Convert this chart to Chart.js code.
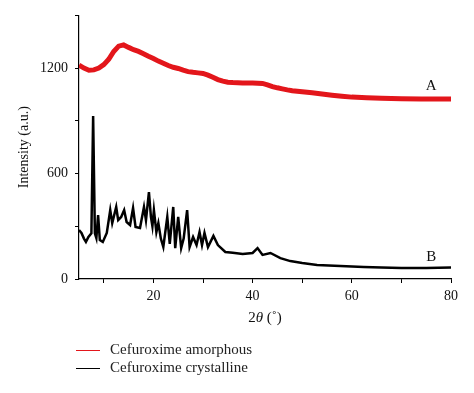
<!DOCTYPE html>
<html>
<head>
<script src="https://cdn.jsdelivr.net/npm/chart.js"></script>
<title>XRD</title>
<style>
  body { margin: 0; background: #fff; }
  #wrap { position: relative; width: 474px; height: 393px; }
  #legend { position: absolute; left: 76px; top: 340px; font: 15px "Liberation Serif", serif; color: #222; }
  #legend div { height: 18px; line-height: 18px; white-space: nowrap; }
  #legend span { display: inline-block; width: 24px; height: 0; border-top: 1.5px solid; vertical-align: middle; margin-right: 10px; }
</style>
</head>
<body>
<div id="wrap">
  <canvas id="xrd" width="474" height="393"></canvas>
  <div id="legend"></div>
</div>
<script>
// 2theta (deg) and intensity
const amorphousX = [5, 6, 7, 8, 9, 10, 11, 12, 13, 14, 15, 16, 17, 18, 19, 20, 21, 22, 23, 24, 25, 26, 27, 28, 29, 30,
  31, 32, 33, 34, 35, 36, 38, 40, 42, 43, 44, 45, 46, 47, 48, 50, 52, 54, 56, 58, 60, 63, 66, 70, 74, 77, 80];
const amorphousY = [1217, 1200, 1188, 1190, 1200, 1220, 1250, 1295, 1325, 1332, 1318, 1305, 1295, 1282, 1268, 1255,
  1240, 1228, 1215, 1205, 1198, 1188, 1180, 1176, 1173, 1170, 1160, 1148, 1135, 1126, 1120, 1118, 1116, 1115, 1113,
  1105, 1095, 1088, 1082, 1076, 1071, 1065, 1060, 1053, 1046, 1040, 1035, 1031, 1028, 1025, 1024, 1024, 1024];

const crystX = [5, 5.5, 6, 6.4, 6.9, 7.5, 7.85, 8.2, 8.5, 8.85, 9.2, 9.8, 10.6, 11.3, 11.7, 12.5, 12.9, 13.5, 14.1,
  14.6, 15.3, 15.9, 16.4, 17.3, 18.1, 18.5, 19.1, 19.5, 19.8, 20.1, 20.6, 21.0, 21.5, 22.0, 22.8, 23.3, 24.0, 24.4,
  25.0, 25.6, 26.1, 26.8, 27.3, 28.0, 28.7, 29.3, 29.8, 30.3, 31.0, 32.1, 33.0, 34.5, 36, 38, 40, 41, 42, 43.6,
  45.6, 47.6, 50, 53, 57.7, 62.4, 66, 70, 75, 80];
const crystY = [279, 262, 230, 211, 239, 260, 927, 260, 233, 364, 222, 211, 262, 392, 318, 410, 335, 353, 392,
  324, 307, 404, 296, 290, 410, 335, 495, 353, 300, 392, 267, 318, 230, 182, 353, 200, 410, 176,
  353, 176, 230, 392, 182, 239, 193, 267, 193, 262, 182, 245, 193, 154, 150, 142, 148, 176, 137, 148,
  119, 102, 91, 80, 74, 68, 65, 63, 63, 66];

const seriesNames = ['Cefuroxime amorphous', 'Cefuroxime crystalline'];
const seriesColors = ['#e3161b', '#000000'];
const curveLabels = ['A', 'B'];
const labelAt = [[76, 1098], [76, 125]];
const xTicks = [10, 20, 30, 40, 50, 60, 70, 80];
const yTicks = [0, 300, 600, 900, 1200, 1500];

const serif = '"Liberation Serif", "Times New Roman", serif';

const extras = {
  id: 'extras',
  afterDraw(chart) {
    const ctx = chart.ctx;
    const xs = chart.scales.x, ys = chart.scales.y;
    ctx.save();
    ctx.fillStyle = '#111';
    ctx.font = '15px ' + serif;
    ctx.textAlign = 'center';
    ctx.textBaseline = 'middle';
    curveLabels.forEach((t, i) => {
      ctx.fillText(t, xs.getPixelForValue(labelAt[i][0]), ys.getPixelForValue(labelAt[i][1]));
    });
    // x axis title with italic theta
    const parts = [['2', '15px '], ['\u03b8', 'italic 15px '], [' (\u02da)', '15px ']];
    let w = 0;
    parts.forEach(p => { ctx.font = p[1] + serif; w += ctx.measureText(p[0]).width; });
    let x = (xs.left + xs.right) / 2 - w / 2;
    ctx.textAlign = 'left';
    parts.forEach(p => {
      ctx.font = p[1] + serif;
      ctx.fillText(p[0], x, 318);
      x += ctx.measureText(p[0]).width;
    });
    ctx.restore();
  }
};

new Chart(document.getElementById('xrd'), {
  type: 'scatter',
  data: {
    datasets: [
      { label: seriesNames[0], data: amorphousX.map((x, i) => ({ x: x, y: amorphousY[i] })),
        borderColor: seriesColors[0], borderWidth: 5, showLine: true, pointRadius: 0, tension: 0 },
      { label: seriesNames[1], data: crystX.map((x, i) => ({ x: x, y: crystY[i] })),
        borderColor: seriesColors[1], borderWidth: 2.5, showLine: true, pointRadius: 0, tension: 0 }
    ]
  },
  options: {
    responsive: false,
    animation: false,
    layout: { padding: { top: 15, left: 12, right: 23, bottom: 62 } },
    plugins: { legend: { display: false }, tooltip: { enabled: false } },
    scales: {
      x: {
        type: 'linear', min: 5, max: 80,
        afterBuildTicks: s => { s.ticks = xTicks.map(v => ({ value: v })); },
        afterFit: s => { s.height = 52; },
        grid: { drawOnChartArea: false, drawTicks: true, tickLength: 4, color: '#000' },
        border: { display: true, color: '#000', width: 1.2 },
        ticks: { color: '#111', padding: 5, maxRotation: 0, autoSkip: false,
          font: { family: serif, size: 14 }, callback: v => (v % 20 === 0 ? v : '') }
      },
      y: {
        min: 0, max: 1500,
        afterBuildTicks: s => { s.ticks = yTicks.map(v => ({ value: v })); },
        afterFit: s => { s.width = 67; },
        grid: { drawOnChartArea: false, drawTicks: true, tickLength: 4, color: '#000' },
        border: { display: true, color: '#000', width: 1.2 },
        title: { display: true, text: 'Intensity (a.u.)', color: '#111', font: { family: serif, size: 14 } },
        ticks: { color: '#111', padding: 7, autoSkip: false,
          font: { family: serif, size: 14 }, callback: v => (v % 600 === 0 ? v : '') }
      }
    }
  },
  plugins: [extras]
});

const legend = document.getElementById('legend');
seriesNames.forEach((n, i) => {
  const row = document.createElement('div');
  const line = document.createElement('span');
  line.style.borderColor = seriesColors[i];
  row.appendChild(line);
  row.appendChild(document.createTextNode(n));
  legend.appendChild(row);
});
</script>
</body>
</html>
